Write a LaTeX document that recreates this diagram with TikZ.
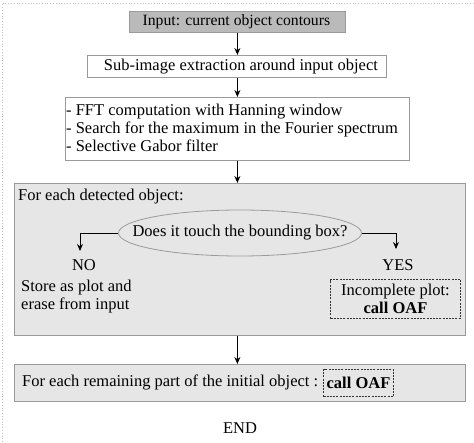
\documentclass[tikz,border=0pt]{standalone}
\usepackage{fontspec}
\setmainfont{Liberation Serif}
\usetikzlibrary{shapes.geometric,arrows.meta}
\definecolor{edgegray}{HTML}{9A9A9A}
\definecolor{darkfill}{HTML}{BABABA}
\definecolor{lightfill}{HTML}{E6E6E6}
\begin{document}
\begin{tikzpicture}[x=1pt,y=-1pt,
  every node/.style={font=\fontsize{16.5}{18}\selectfont, inner sep=0pt},
  box/.style={draw=edgegray, line width=0.8pt, anchor=north west},
  flow/.style={-{Stealth[length=7pt,width=6pt]}, line width=1pt, black},
  dashbox/.style={draw=black!80, dashed, dash pattern=on 2pt off 1.2pt, line width=1pt}]
\useasboundingbox (0,0) rectangle (474,442);
\draw[black!25, dotted, line width=0.8pt] (2,442) -- (2,3) -- (474,3);
% boxes
\node[box, fill=darkfill, minimum width=216pt, minimum height=21pt] (b1) at (129,11) {};
\node[font=\fontsize{15.7}{18}\selectfont] at ([xshift=-1pt]b1.center) {Input: current object contours};
\node[box, fill=white, minimum width=299pt, minimum height=22pt] (b2) at (87,55) {};
\node at ([xshift=4pt]b2.center) {Sub-image extraction around input object};
\node[box, fill=white, minimum width=344pt, minimum height=63pt] (b3) at (65,97) {};
\node[anchor=north west, align=left] (t3) at (66,104) {- FFT computation with Hanning window\\- Search for the maximum in the Fourier spectrum\\- Selective Gabor filter};
\node[box, fill=lightfill, minimum width=451pt, minimum height=152pt] (b4) at (14,183) {};
\node[anchor=west] (t4) at (18,197) {For each detected object:};
\node[ellipse, draw=edgegray, line width=0.8pt, fill=lightfill, minimum width=243pt, minimum height=46pt] (e) at (240,233) {};
\node at (e.center) {Does it touch the bounding box?};
\coordinate (nl) at (80,251);
\coordinate (nr) at (396,249);
\node (no) at (84,265) {NO};
\node (yes) at (398,265) {YES};
\node[anchor=north west, align=left] (st) at (21,280) {Store as plot and\\erase from input};
\node[dashbox, anchor=north west, minimum width=130pt, minimum height=39pt] (db) at (330,279) {};
\node[align=center] at (db.center) {Incomplete plot:\\\textbf{call OAF}};
\node[box, fill=lightfill, minimum width=451pt, minimum height=37pt] (b5) at (14,364) {};
\node[anchor=west] (t5) at (22,382) {For each remaining part of the initial object :};
\node[dashbox, anchor=north west, minimum width=70pt, minimum height=27pt] (db2) at (323,369) {};
\node at (db2.center) {\textbf{call OAF}};
\node (end) at (240,428) {END};
% connectors
\draw[flow] (b1.south) -- (b1.south |- b2.north);
\draw[flow] (b2.south -| b1.south) -- (b1.south |- b3.north);
\draw[flow] (b3.south -| b1.south) -- (b1.south |- b4.north);
\draw[flow] (b4.south -| b1.south) -- (b1.south |- b5.north);
\draw[flow] (e.west) -| (nl);
\draw[flow] (e.east) -| (nr);
\end{tikzpicture}
\end{document}
